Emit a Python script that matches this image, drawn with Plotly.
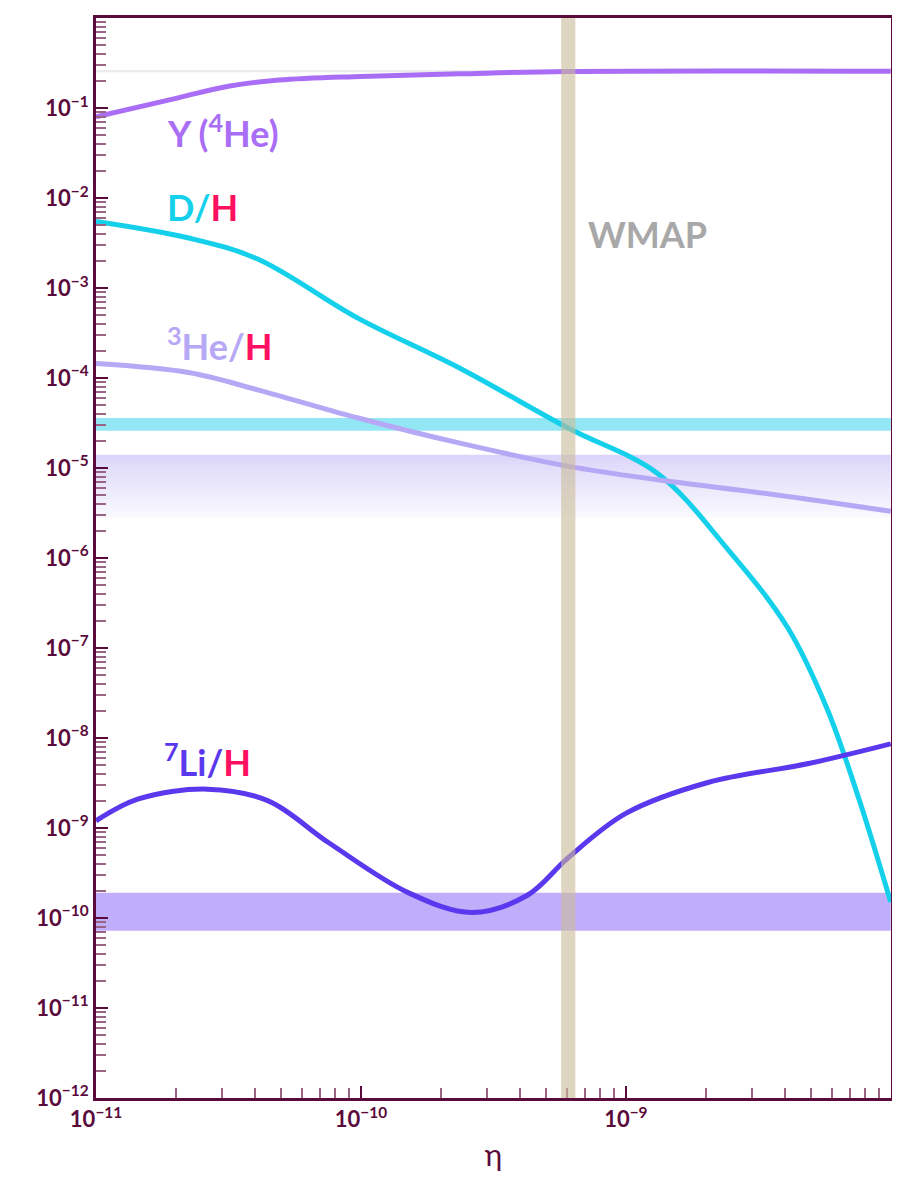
import numpy as np
import plotly.graph_objects as go

# log10(eta) sample points
he4_x = [-11, -10.69, -10.5, -10.31, -10.0, -9.63, -9.22, -8.0]
he4_y = [0.08, 0.13, 0.175, 0.205, 0.225, 0.24, 0.255, 0.257]

dh_x = [-11, -10.65, -10.39, -10.01, -9.63, -9.22, -8.88, -8.62, -8.39, -8.24, -8.12, -8.0]
dh_y = [5.5e-3, 3.6e-3, 2.1e-3, 4.6e-4, 1.3e-4, 2.8e-5, 8.7e-6, 1.3e-6, 1.7e-7, 2.1e-8, 2.1e-9, 1.5e-10]

he3_x = [-11, -10.65, -10.39, -10.01, -9.63, -9.22, -8.88, -8.47, -8.0]
he3_y = [1.45e-4, 1.15e-4, 7.4e-5, 3.6e-5, 1.9e-5, 1.05e-5, 7.4e-6, 5.2e-6, 3.3e-6]

li_x = [-11, -10.84, -10.58, -10.35, -10.12, -9.82, -9.58, -9.37, -9.22, -9.0, -8.69, -8.31, -8.0]
li_y = [1.2e-9, 2.1e-9, 2.7e-9, 2.0e-9, 6.8e-10, 1.9e-10, 1.15e-10, 1.8e-10, 4.6e-10, 1.45e-9, 3.2e-9, 5.2e-9, 8.6e-9]

# observed bands (y ranges) and WMAP eta range
he4_band = [0.25, 0.265]
dh_band = [2.6e-5, 3.6e-5]
he3_band = [2.8e-6, 1.4e-5]
li_band = [7.2e-11, 1.9e-10]
wmap_band = [5.7e-10, 6.45e-10]

ytick_exp = list(range(0, -13, -1))
xtick_exp = [-11, -10, -9, -8]

DARK = "#5b0a3c"
fig = go.Figure()


def band(y0, y1, color, opacity=1.0):
    fig.add_shape(type="rect", xref="x", yref="y", x0=1e-11, x1=1e-8, y0=y0, y1=y1,
                  fillcolor=color, opacity=opacity, line_width=0, layer="below")


band(he4_band[0], he4_band[1], "#ececec")
band(dh_band[0], dh_band[1], "#93e6f3")
# 3He band: gradient, fading downward
lo, hi = np.log10(he3_band[0]), np.log10(he3_band[1])
n = 20
for i in range(n):
    a = lo + (hi - lo) * i / n
    b = lo + (hi - lo) * (i + 1) / n
    band(10 ** a, 10 ** b, "#b9acf5", 0.05 + 0.45 * (i + 1) / n)
band(li_band[0], li_band[1], "#c0aefb")
fig.add_shape(type="rect", xref="x", yref="paper", x0=wmap_band[0], x1=wmap_band[1], y0=0, y1=1,
              fillcolor="#c9bb98", opacity=0.6, line_width=0, layer="above")


def curve(xs, ys, color, name):
    fig.add_trace(go.Scatter(x=10 ** np.array(xs), y=ys, mode="lines", name=name,
                             line=dict(color=color, width=5, shape="spline", smoothing=1.0)))


curve(he4_x, he4_y, "#a96ef5", "Y")
curve(dh_x, dh_y, "#15d0ea", "D/H")
curve(he3_x, he3_y, "#b7a8f6", "3He/H")
curve(li_x, li_y, "#5a38ee", "7Li/H")

FONT = "Lato"
labels = [
    (-10.74, -1.25, "<b><span style='color:#a96ef5'>Y (<sup>4</sup>He)</span></b>", "#a96ef5"),
    (-10.74, -2.1, "<b><span style='color:#15d0ea'>D/</span><span style='color:#ff1060'>H</span></b>", "#15d0ea"),
    (-10.74, -3.62, "<b><span style='color:#b7a8f6'><sup>3</sup>He/</span><span style='color:#ff1060'>H</span></b>", "#b7a8f6"),
    (-10.75, -8.24, "<b><span style='color:#5a38ee'><sup>7</sup>Li/</span><span style='color:#ff1060'>H</span></b>", "#5a38ee"),
    (-9.15, -2.4, "<b>WMAP</b>", "#a8a8a8"),
]
for lx, ly, txt, c in labels:
    fig.add_annotation(x=lx, y=ly, xref="x", yref="y", text=txt, showarrow=False,
                       xanchor="left", yanchor="middle", font=dict(family=FONT, size=36, color=c))


def minors(exps):
    return [m * 10.0 ** e for e in exps for m in range(2, 10)]


fig.update_layout(
    width=900, height=1184, showlegend=False,
    paper_bgcolor="white", plot_bgcolor="white",
    margin=dict(l=88, r=17, t=10, b=94),
    font=dict(family=FONT, color=DARK),
)
fig.update_xaxes(type="log", range=[-11, -7.999], showgrid=False, zeroline=False, automargin=False,
                 showline=True, linecolor=DARK, linewidth=3, mirror=True,
                 ticks="inside", ticklen=12, tickwidth=1.5, tickcolor=DARK,
                 minor=dict(ticks="inside", ticklen=10, tickcolor="#9a6585", showgrid=False,
                            tickvals=minors(xtick_exp[:-1])),
                 tickvals=[10.0 ** e for e in xtick_exp],
                 ticktext=["<b>10<sup>−%d</sup></b>" % -e for e in xtick_exp],
                 tickfont=dict(size=22, color=DARK),
                 title=dict(text="η", font=dict(size=30, color=DARK), standoff=14))
fig.update_yaxes(type="log", range=[-12.001, 0.001], showgrid=False, zeroline=False, automargin=False,
                 showline=True, linecolor=DARK, linewidth=3, mirror=True,
                 ticks="inside", ticklen=12, tickwidth=1.5, tickcolor=DARK,
                 minor=dict(ticks="inside", ticklen=10, tickcolor="#9a6585", showgrid=False,
                            tickvals=minors(ytick_exp[1:])),
                 tickvals=[10.0 ** e for e in ytick_exp],
                 ticktext=["<b>1</b>"] + ["<b>10<sup>−%d</sup></b>" % -e for e in ytick_exp[1:]],
                 tickfont=dict(size=22, color=DARK))

fig.write_html("out.html")
